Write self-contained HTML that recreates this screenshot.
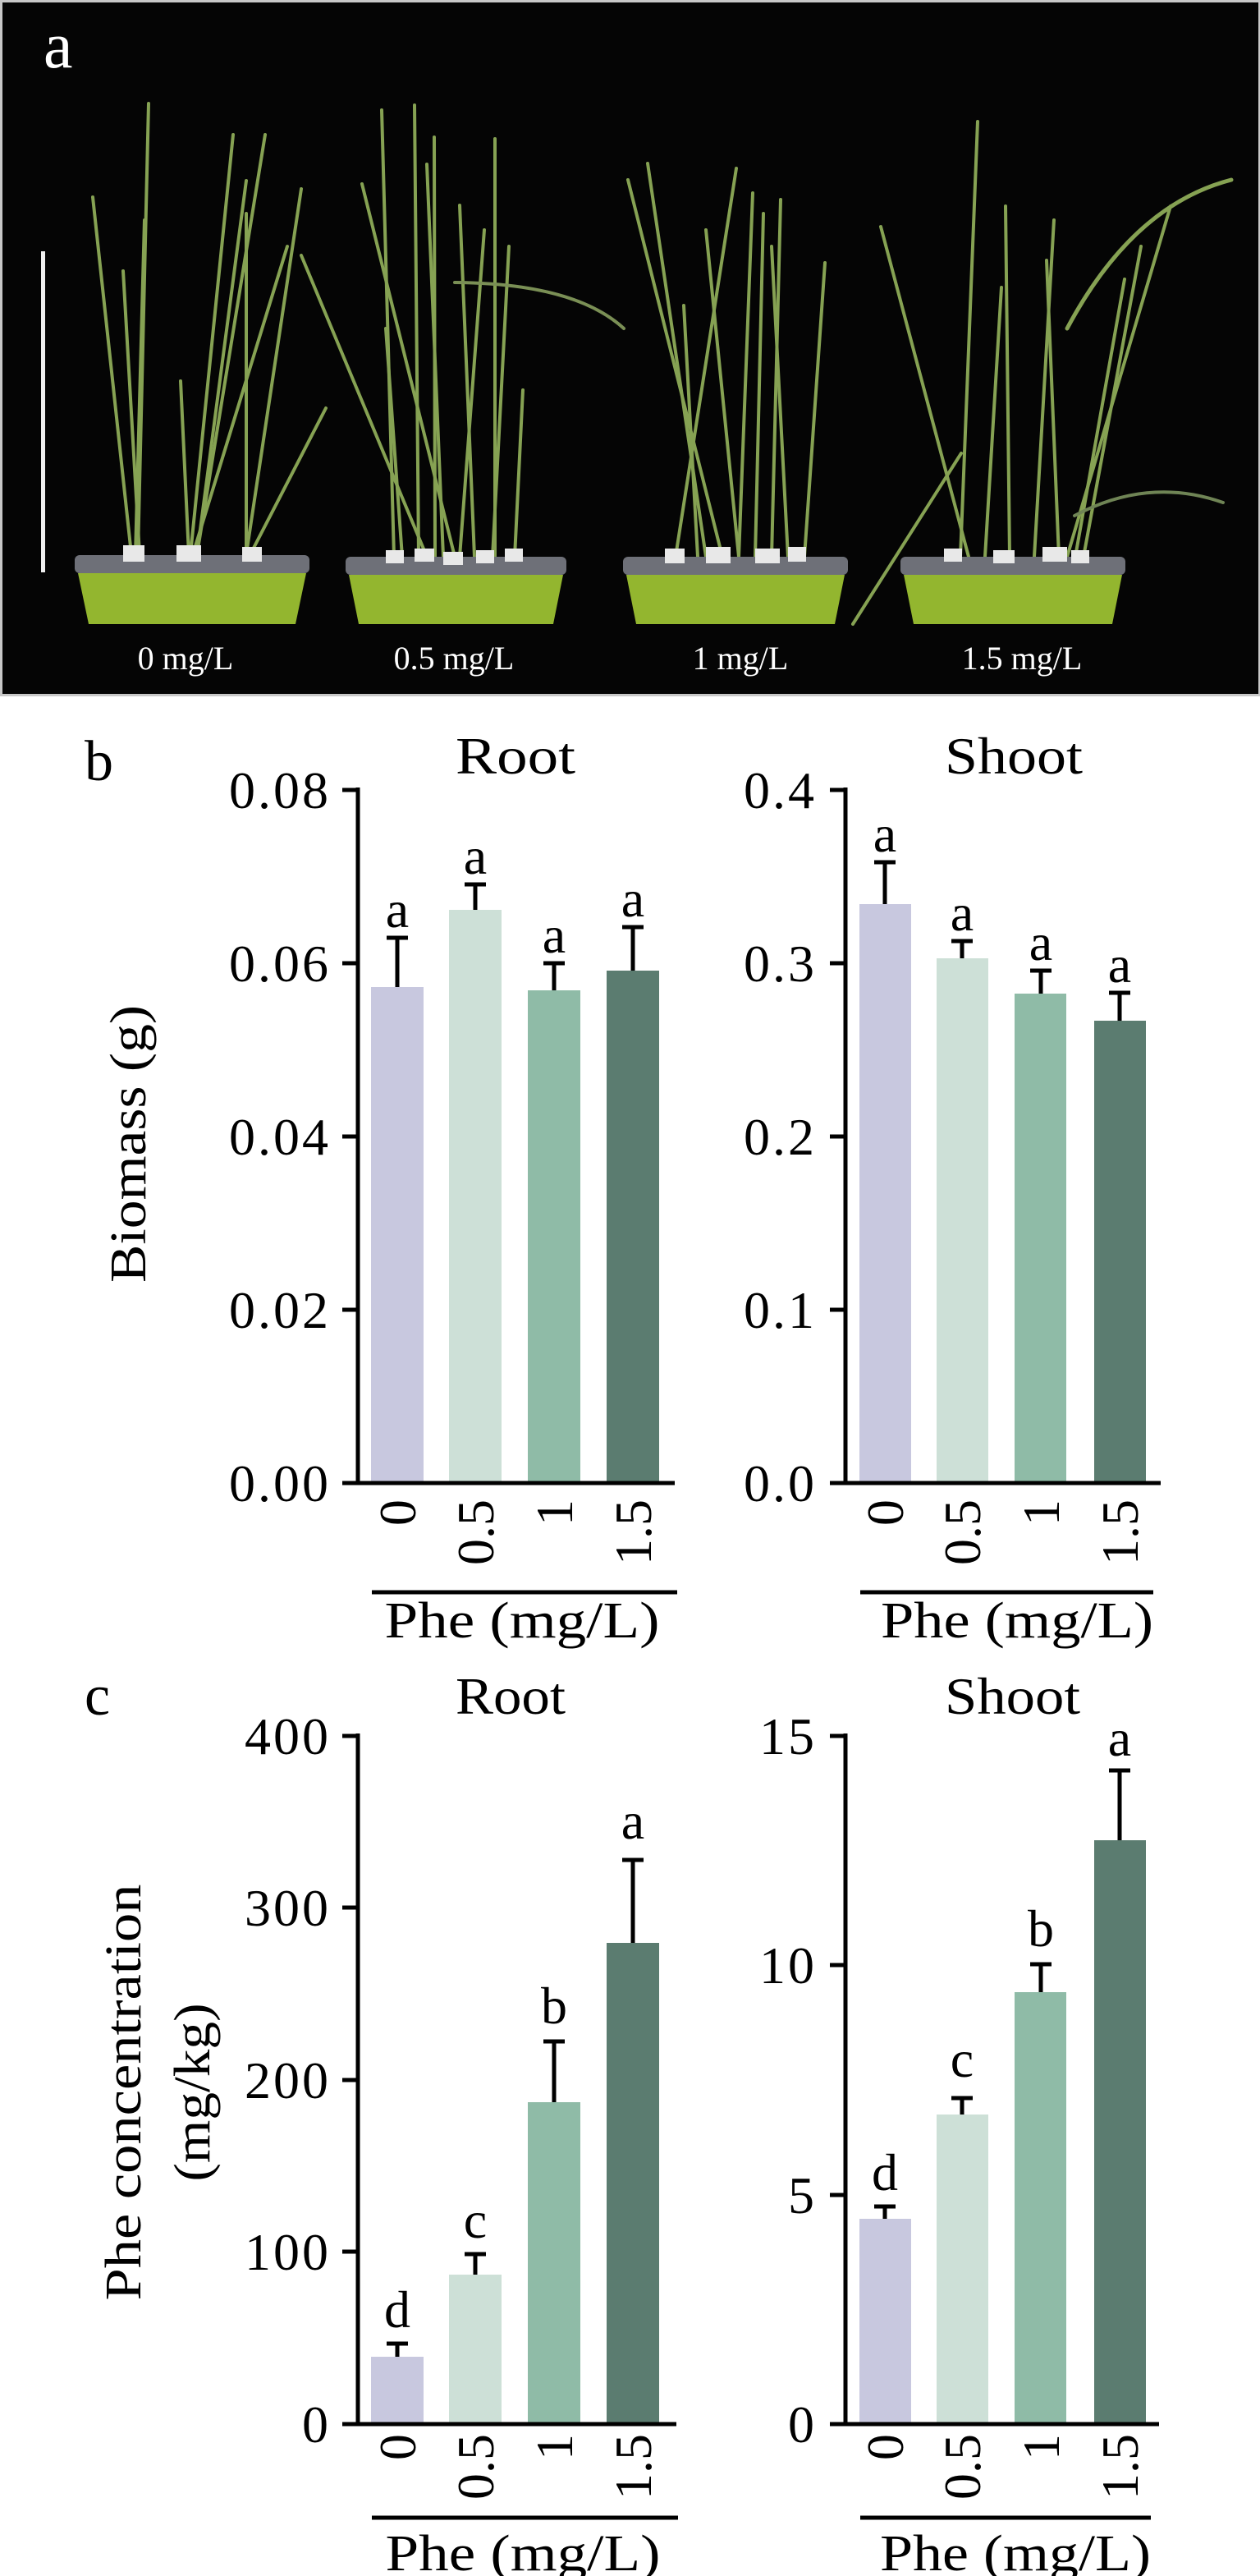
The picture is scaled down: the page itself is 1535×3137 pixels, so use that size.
<!DOCTYPE html>
<html><head><meta charset="utf-8"><style>
html,body{margin:0;padding:0;background:#fff;}
svg{display:block;}
text{font-family:"Liberation Serif",serif;fill:#000;}
</style></head><body>
<svg width="1535" height="3137" viewBox="0 0 1535 3137" xmlns="http://www.w3.org/2000/svg">
<!-- Panel a photo -->
<rect x="0" y="0" width="1535" height="848" fill="#c8c8c8"/>
<rect x="3" y="3" width="1530" height="842" fill="#050505"/>
<text x="53" y="82" font-size="80" style="fill:#fff">a</text>
<rect x="50" y="306" width="5" height="391" fill="#f0f0f0"/>
<g stroke-linecap="round" fill="none">
 <g stroke="#86a253" stroke-width="4">
  <line x1="168" y1="675" x2="181" y2="126"/><line x1="160" y1="675" x2="113" y2="240"/>
  <line x1="232" y1="675" x2="284" y2="164"/><line x1="240" y1="675" x2="323" y2="164"/>
  <line x1="300" y1="675" x2="367" y2="230"/><line x1="230" y1="675" x2="220" y2="464"/>
  <line x1="305" y1="675" x2="397" y2="497"/><line x1="165" y1="675" x2="176" y2="268"/>
  <line x1="235" y1="675" x2="350" y2="300"/><line x1="300" y1="675" x2="300" y2="260"/>
  <line x1="240" y1="675" x2="300" y2="220"/><line x1="170" y1="675" x2="150" y2="330"/>
  <line x1="480" y1="678" x2="465" y2="134"/><line x1="510" y1="678" x2="505" y2="128"/>
  <line x1="530" y1="678" x2="529" y2="167"/><line x1="603" y1="678" x2="603" y2="169"/>
  <line x1="554" y1="678" x2="441" y2="224"/><line x1="520" y1="678" x2="367" y2="311"/>
  <line x1="627" y1="678" x2="637" y2="475"/><line x1="578" y1="678" x2="560" y2="250"/>
  <line x1="600" y1="678" x2="620" y2="300"/><line x1="490" y1="678" x2="470" y2="400"/>
  <line x1="540" y1="678" x2="520" y2="200"/><line x1="560" y1="678" x2="590" y2="280"/>
  <line x1="823" y1="678" x2="897" y2="205"/><line x1="860" y1="678" x2="789" y2="199"/>
  <line x1="880" y1="678" x2="765" y2="219"/><line x1="940" y1="678" x2="951" y2="243"/>
  <line x1="980" y1="678" x2="1005" y2="320"/><line x1="900" y1="678" x2="917" y2="235"/>
  <line x1="850" y1="678" x2="833" y2="372"/><line x1="960" y1="678" x2="940" y2="300"/>
  <line x1="900" y1="678" x2="860" y2="280"/><line x1="920" y1="678" x2="930" y2="260"/>
  <line x1="1170" y1="678" x2="1191" y2="148"/><line x1="1230" y1="678" x2="1225" y2="251"/>
  <line x1="1260" y1="678" x2="1284" y2="268"/><line x1="1300" y1="678" x2="1426" y2="251"/>
  <line x1="1180" y1="678" x2="1073" y2="276"/><line x1="1290" y1="678" x2="1275" y2="317"/>
  <line x1="1039" y1="760" x2="1171" y2="552"/><line x1="1310" y1="678" x2="1370" y2="340"/>
  <line x1="1200" y1="678" x2="1220" y2="350"/><line x1="1320" y1="678" x2="1390" y2="300"/>
 </g>
 <path d="M554 344 Q700 345 760 400" stroke="#7a8f55" stroke-width="4"/>
 <path d="M1309 628 Q1400 580 1490 612" stroke="#6f8455" stroke-width="4"/>
 <path d="M1300 400 Q1380 250 1500 219" stroke="#86a253" stroke-width="5"/>
</g>
<g>
 <rect x="91" y="676" width="286" height="22" rx="6" fill="#6e7078"/>
 <path d="M95 698 L373 698 L360 760 L108 760 Z" fill="#93b62f"/>
 <rect x="421" y="678" width="269" height="22" rx="6" fill="#6e7078"/>
 <path d="M425 700 L686 700 L674 760 L437 760 Z" fill="#93b62f"/>
 <rect x="759" y="678" width="274" height="22" rx="6" fill="#6e7078"/>
 <path d="M763 700 L1029 700 L1017 760 L775 760 Z" fill="#93b62f"/>
 <rect x="1097" y="678" width="274" height="22" rx="6" fill="#6e7078"/>
 <path d="M1101 700 L1367 700 L1355 760 L1113 760 Z" fill="#93b62f"/>
</g>
<g fill="#e8e8e8">
 <rect x="150" y="664" width="26" height="20"/><rect x="215" y="664" width="30" height="20"/><rect x="295" y="666" width="24" height="18"/>
 <rect x="470" y="670" width="22" height="16"/><rect x="505" y="668" width="24" height="16"/><rect x="540" y="672" width="24" height="16"/><rect x="580" y="670" width="22" height="16"/><rect x="615" y="668" width="22" height="16"/>
 <rect x="810" y="668" width="24" height="18"/><rect x="860" y="666" width="30" height="20"/><rect x="920" y="668" width="30" height="18"/><rect x="960" y="666" width="22" height="18"/>
 <rect x="1150" y="668" width="22" height="16"/><rect x="1210" y="670" width="26" height="16"/><rect x="1270" y="666" width="30" height="18"/><rect x="1305" y="670" width="22" height="16"/>
</g>
<g font-size="40" style="fill:#fff" text-anchor="middle">
 <text x="226" y="815" style="fill:#fff">0 mg/L</text>
 <text x="553" y="815" style="fill:#fff">0.5 mg/L</text>
 <text x="902" y="815" style="fill:#fff">1 mg/L</text>
 <text x="1245" y="815" style="fill:#fff">1.5 mg/L</text>
</g>

<!-- Panel b -->
<text x="103" y="950" font-size="70">b</text>
<text x="555" y="942" font-size="64" textLength="146" lengthAdjust="spacingAndGlyphs">Root</text>
<text x="1151" y="942" font-size="64" textLength="168" lengthAdjust="spacingAndGlyphs">Shoot</text>
<text transform="translate(177,1393) rotate(-90)" font-size="62" text-anchor="middle" textLength="338" lengthAdjust="spacingAndGlyphs">Biomass (g)</text>

<!-- b root -->
<g>
 <rect x="452" y="1202" width="64" height="604" fill="#c8c8df"/>
 <rect x="547" y="1108" width="64" height="698" fill="#cde0d7"/>
 <rect x="643" y="1206" width="64" height="600" fill="#8fbba7"/>
 <rect x="739" y="1182" width="64" height="624" fill="#5b7c70"/>
 <g stroke="#000" stroke-width="5">
  <line x1="484" y1="1202" x2="484" y2="1142"/><line x1="471" y1="1142" x2="497" y2="1142"/>
  <line x1="579" y1="1108" x2="579" y2="1077"/><line x1="566" y1="1077" x2="592" y2="1077"/>
  <line x1="675" y1="1206" x2="675" y2="1173"/><line x1="662" y1="1173" x2="688" y2="1173"/>
  <line x1="771" y1="1182" x2="771" y2="1129"/><line x1="758" y1="1129" x2="784" y2="1129"/>
  <line x1="436" y1="959" x2="436" y2="1808"/><line x1="434" y1="1806" x2="822" y2="1806"/>
  <line x1="417" y1="962" x2="436" y2="962"/><line x1="417" y1="1173" x2="436" y2="1173"/>
  <line x1="417" y1="1384" x2="436" y2="1384"/><line x1="417" y1="1595" x2="436" y2="1595"/>
  <line x1="417" y1="1806" x2="436" y2="1806"/>
  <line x1="453" y1="1939" x2="825" y2="1939"/>
 </g>
 <g font-size="64" text-anchor="middle">
  <text x="484" y="1129">a</text><text x="579" y="1064">a</text>
  <text x="675" y="1160">a</text><text x="771" y="1116">a</text>
 </g>
 <g font-size="64" text-anchor="end" letter-spacing="3">
  <text x="403" y="984">0.08</text><text x="403" y="1195">0.06</text>
  <text x="403" y="1406">0.04</text><text x="403" y="1617">0.02</text>
  <text x="403" y="1828">0.00</text>
 </g>
 <g font-size="64" text-anchor="end">
  <text transform="translate(506,1826) rotate(-90)">0</text>
  <text transform="translate(601,1826) rotate(-90)">0.5</text>
  <text transform="translate(697,1826) rotate(-90)">1</text>
  <text transform="translate(793,1826) rotate(-90)">1.5</text>
 </g>
 <text x="636" y="1994" font-size="62" text-anchor="middle" textLength="335" lengthAdjust="spacingAndGlyphs">Phe (mg/L)</text>
</g>

<!-- b shoot -->
<g>
 <rect x="1047" y="1101" width="63" height="705" fill="#c8c8df"/>
 <rect x="1141" y="1167" width="63" height="639" fill="#cde0d7"/>
 <rect x="1236" y="1210" width="63" height="596" fill="#8fbba7"/>
 <rect x="1333" y="1243" width="63" height="563" fill="#5b7c70"/>
 <g stroke="#000" stroke-width="5">
  <line x1="1078" y1="1101" x2="1078" y2="1050"/><line x1="1065" y1="1050" x2="1091" y2="1050"/>
  <line x1="1172" y1="1167" x2="1172" y2="1146"/><line x1="1159" y1="1146" x2="1185" y2="1146"/>
  <line x1="1268" y1="1210" x2="1268" y2="1182"/><line x1="1255" y1="1182" x2="1281" y2="1182"/>
  <line x1="1364" y1="1243" x2="1364" y2="1209"/><line x1="1351" y1="1209" x2="1377" y2="1209"/>
  <line x1="1030" y1="959" x2="1030" y2="1808"/><line x1="1028" y1="1806" x2="1414" y2="1806"/>
  <line x1="1011" y1="962" x2="1030" y2="962"/><line x1="1011" y1="1173" x2="1030" y2="1173"/>
  <line x1="1011" y1="1384" x2="1030" y2="1384"/><line x1="1011" y1="1595" x2="1030" y2="1595"/>
  <line x1="1011" y1="1806" x2="1030" y2="1806"/>
  <line x1="1048" y1="1939" x2="1405" y2="1939"/>
 </g>
 <g font-size="64" text-anchor="middle">
  <text x="1078" y="1037">a</text><text x="1172" y="1133">a</text>
  <text x="1268" y="1169">a</text><text x="1364" y="1196">a</text>
 </g>
 <g font-size="64" text-anchor="end" letter-spacing="3">
  <text x="995" y="984">0.4</text><text x="995" y="1195">0.3</text>
  <text x="995" y="1406">0.2</text><text x="995" y="1617">0.1</text>
  <text x="995" y="1828">0.0</text>
 </g>
 <g font-size="64" text-anchor="end">
  <text transform="translate(1100,1826) rotate(-90)">0</text>
  <text transform="translate(1194,1826) rotate(-90)">0.5</text>
  <text transform="translate(1290,1826) rotate(-90)">1</text>
  <text transform="translate(1386,1826) rotate(-90)">1.5</text>
 </g>
 <text x="1239" y="1994" font-size="62" text-anchor="middle" textLength="332" lengthAdjust="spacingAndGlyphs">Phe (mg/L)</text>
</g>

<!-- Panel c -->
<text x="103" y="2088" font-size="70">c</text>
<text x="555" y="2087" font-size="64" textLength="134" lengthAdjust="spacingAndGlyphs">Root</text>
<text x="1151" y="2087" font-size="64" textLength="165" lengthAdjust="spacingAndGlyphs">Shoot</text>
<text transform="translate(171,2548) rotate(-90)" font-size="62" text-anchor="middle" textLength="507" lengthAdjust="spacingAndGlyphs">Phe concentration</text>
<text transform="translate(255,2548) rotate(-90)" font-size="62" text-anchor="middle" textLength="217" lengthAdjust="spacingAndGlyphs">(mg/kg)</text>

<!-- c root -->
<g>
 <rect x="452" y="2870" width="64" height="82" fill="#c8c8df"/>
 <rect x="547" y="2770" width="64" height="182" fill="#cde0d7"/>
 <rect x="643" y="2560" width="64" height="392" fill="#8fbba7"/>
 <rect x="739" y="2366" width="64" height="586" fill="#5b7c70"/>
 <g stroke="#000" stroke-width="5">
  <line x1="484" y1="2870" x2="484" y2="2854"/><line x1="471" y1="2854" x2="497" y2="2854"/>
  <line x1="579" y1="2770" x2="579" y2="2745"/><line x1="566" y1="2745" x2="592" y2="2745"/>
  <line x1="675" y1="2560" x2="675" y2="2486"/><line x1="662" y1="2486" x2="688" y2="2486"/>
  <line x1="771" y1="2366" x2="771" y2="2265"/><line x1="758" y1="2265" x2="784" y2="2265"/>
  <line x1="436" y1="2111" x2="436" y2="2954"/><line x1="434" y1="2952" x2="824" y2="2952"/>
  <line x1="417" y1="2114" x2="436" y2="2114"/><line x1="417" y1="2323" x2="436" y2="2323"/>
  <line x1="417" y1="2533" x2="436" y2="2533"/><line x1="417" y1="2742" x2="436" y2="2742"/>
  <line x1="417" y1="2952" x2="436" y2="2952"/>
  <line x1="453" y1="3066" x2="826" y2="3066"/>
 </g>
 <g font-size="64" text-anchor="middle">
  <text x="484" y="2834">d</text><text x="579" y="2725">c</text>
  <text x="675" y="2464">b</text><text x="771" y="2239">a</text>
 </g>
 <g font-size="64" text-anchor="end" letter-spacing="3">
  <text x="403" y="2136">400</text><text x="403" y="2345">300</text>
  <text x="403" y="2555">200</text><text x="403" y="2764">100</text>
  <text x="403" y="2974">0</text>
 </g>
 <g font-size="64" text-anchor="end">
  <text transform="translate(506,2964) rotate(-90)">0</text>
  <text transform="translate(601,2964) rotate(-90)">0.5</text>
  <text transform="translate(697,2964) rotate(-90)">1</text>
  <text transform="translate(793,2964) rotate(-90)">1.5</text>
 </g>
 <text x="637" y="3130" font-size="62" text-anchor="middle" textLength="335" lengthAdjust="spacingAndGlyphs">Phe (mg/L)</text>
</g>

<!-- c shoot -->
<g>
 <rect x="1047" y="2702" width="63" height="250" fill="#c8c8df"/>
 <rect x="1141" y="2575" width="63" height="377" fill="#cde0d7"/>
 <rect x="1236" y="2426" width="63" height="526" fill="#8fbba7"/>
 <rect x="1333" y="2241" width="63" height="711" fill="#5b7c70"/>
 <g stroke="#000" stroke-width="5">
  <line x1="1078" y1="2702" x2="1078" y2="2687"/><line x1="1065" y1="2687" x2="1091" y2="2687"/>
  <line x1="1172" y1="2575" x2="1172" y2="2555"/><line x1="1159" y1="2555" x2="1185" y2="2555"/>
  <line x1="1268" y1="2426" x2="1268" y2="2392"/><line x1="1255" y1="2392" x2="1281" y2="2392"/>
  <line x1="1364" y1="2241" x2="1364" y2="2156"/><line x1="1351" y1="2156" x2="1377" y2="2156"/>
  <line x1="1030" y1="2111" x2="1030" y2="2954"/><line x1="1028" y1="2952" x2="1412" y2="2952"/>
  <line x1="1011" y1="2114" x2="1030" y2="2114"/><line x1="1011" y1="2393" x2="1030" y2="2393"/>
  <line x1="1011" y1="2673" x2="1030" y2="2673"/><line x1="1011" y1="2952" x2="1030" y2="2952"/>
  <line x1="1048" y1="3066" x2="1402" y2="3066"/>
 </g>
 <g font-size="64" text-anchor="middle">
  <text x="1078" y="2667">d</text><text x="1172" y="2529">c</text>
  <text x="1268" y="2370">b</text><text x="1364" y="2138">a</text>
 </g>
 <g font-size="64" text-anchor="end" letter-spacing="3">
  <text x="995" y="2136">15</text><text x="995" y="2415">10</text>
  <text x="995" y="2695">5</text><text x="995" y="2974">0</text>
 </g>
 <g font-size="64" text-anchor="end">
  <text transform="translate(1100,2964) rotate(-90)">0</text>
  <text transform="translate(1194,2964) rotate(-90)">0.5</text>
  <text transform="translate(1290,2964) rotate(-90)">1</text>
  <text transform="translate(1386,2964) rotate(-90)">1.5</text>
 </g>
 <text x="1237" y="3130" font-size="62" text-anchor="middle" textLength="330" lengthAdjust="spacingAndGlyphs">Phe (mg/L)</text>
</g>
</svg>
</body></html>
